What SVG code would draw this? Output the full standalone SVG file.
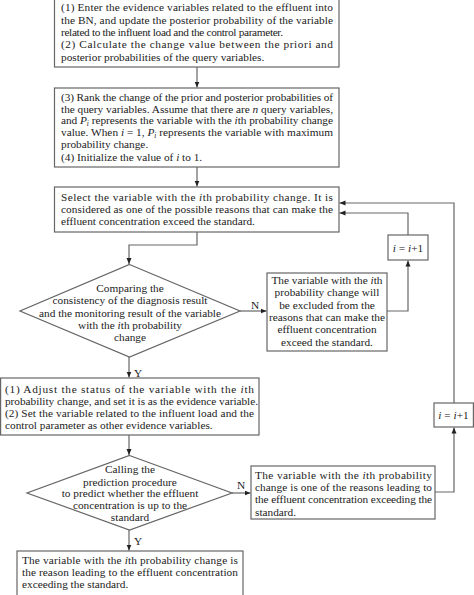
<svg xmlns="http://www.w3.org/2000/svg" width="474" height="595" viewBox="0 0 474 595">
<style>
.b{fill:#fff;stroke:#666;stroke-width:1.2}
.c{fill:none;stroke:#666;stroke-width:1.2}
text{font-family:"Liberation Serif","Times New Roman",serif;font-size:11.3px;fill:#222}
.m{text-anchor:middle}
.i{font-style:italic}
.s{font-style:italic;font-size:7.5px}
</style>
<defs>
<marker id="ah" markerUnits="userSpaceOnUse" markerWidth="7" markerHeight="6" refX="6" refY="3" orient="auto">
<path d="M0,0.5 L6,3 L0,5.5 z" fill="#222"/>
</marker>
</defs>
<rect width="474" height="595" fill="#fff"/>
<g id="connectors">
<path class="c" d="M197,67 V87.5" marker-end="url(#ah)"/>
<path class="c" d="M197,167 V186.5" marker-end="url(#ah)"/>
<path class="c" d="M197,232 V245 H129 V264" marker-end="url(#ah)"/>
<path class="c" d="M240,311 H266.5" marker-end="url(#ah)"/>
<path class="c" d="M387,311 H408 V260.5" marker-end="url(#ah)"/>
<path class="c" d="M408,235 V213 H339.5" marker-end="url(#ah)"/>
<path class="c" d="M454,403 V203 H339.5" marker-end="url(#ah)"/>
<path class="c" d="M129,357 V377.5" marker-end="url(#ah)"/>
<path class="c" d="M129,435 V455" marker-end="url(#ah)"/>
<path class="c" d="M232,493 H250.5" marker-end="url(#ah)"/>
<path class="c" d="M435,492 H454 V427.5" marker-end="url(#ah)"/>
<path class="c" d="M129,530 V550.5" marker-end="url(#ah)"/>
<text x="255" y="309" class="m">N</text>
<text x="138" y="377" class="m">Y</text>
<text x="241" y="489" class="m">N</text>
<text x="138" y="545" class="m">Y</text>
</g>
<g id="step1">
<rect class="b" x="54.5" y="-5" width="284.5" height="72"/>
<text x="61" y="11.3" textLength="272" lengthAdjust="spacing">(1) Enter the evidence variables related to the effluent into</text>
<text x="61" y="23.7" textLength="272" lengthAdjust="spacing">the BN, and update the posterior probability of the variable</text>
<text x="61" y="36.1" textLength="222" lengthAdjust="spacing">related to the influent load and the control parameter.</text>
<text x="61" y="48.4" textLength="272" lengthAdjust="spacing">(2) Calculate the change value between the priori and</text>
<text x="61" y="60.7">posterior probabilities of the query variables.</text>
</g>
<g id="step2">
<rect class="b" x="54.5" y="88" width="284.5" height="79"/>
<text x="61" y="100.7" textLength="272" lengthAdjust="spacing">(3) Rank the change of the prior and posterior probabilities of</text>
<text x="61" y="112.5" textLength="272" lengthAdjust="spacing">the query variables. Assume that there are <tspan class="i">n</tspan> query variables,</text>
<text x="61" y="124.3" textLength="272" lengthAdjust="spacing">and <tspan class="i">P</tspan><tspan class="s" dy="1.5">i</tspan><tspan dy="-1.5"> represents the variable with the </tspan><tspan class="i">i</tspan>th probability change</text>
<text x="61" y="136.3" textLength="272" lengthAdjust="spacing">value. When <tspan class="i">i</tspan> = 1, <tspan class="i">P</tspan><tspan class="s" dy="1.5">i</tspan><tspan dy="-1.5"> represents the variable with maximum</tspan></text>
<text x="61" y="148.4">probability change.</text>
<text x="61" y="160.6">(4) Initialize the value of <tspan class="i">i</tspan> to 1.</text>
</g>
<g id="select">
<rect class="b" x="54.5" y="187" width="284.5" height="45"/>
<text x="61" y="201" textLength="272" lengthAdjust="spacing">Select the variable with the <tspan class="i">i</tspan>th probability change. It is</text>
<text x="61" y="213" textLength="272" lengthAdjust="spacing">considered as one of the possible reasons that can make the</text>
<text x="61" y="225">effluent concentration exceed the standard.</text>
</g>
<g id="compare">
<path class="b" d="M129.5,264.5 L240,311 L129.5,357 L20,311 Z"/>
<text x="130" y="292" class="m">Comparing the</text>
<text x="130" y="304" class="m">consistency of the diagnosis result</text>
<text x="130" y="316.5" class="m">and the monitoring result of the variable</text>
<text x="130" y="329" class="m">with the <tspan class="i">i</tspan>th probability</text>
<text x="130" y="341" class="m">change</text>
</g>
<g id="excluded">
<rect class="b" x="267" y="273" width="120" height="78"/>
<text x="327" y="284" class="m">The variable with the <tspan class="i">i</tspan>th</text>
<text x="327" y="296.3" class="m">probability change will</text>
<text x="327" y="308.6" class="m">be excluded from the</text>
<text x="327" y="320.9" class="m">reasons that can make the</text>
<text x="327" y="333.2" class="m">effluent concentration</text>
<text x="327" y="345.5" class="m">exceed the standard.</text>
</g>
<g id="inc1">
<rect class="b" x="388" y="235" width="40" height="25"/>
<text x="408" y="251.5" class="m"><tspan class="i">i</tspan> = <tspan class="i">i</tspan>+1</text>
</g>
<g id="adjust">
<rect class="b" x="0.6" y="378" width="258.4" height="57"/>
<text x="5" y="393" textLength="249" lengthAdjust="spacing">(1) Adjust the status of the variable with the <tspan class="i">i</tspan>th</text>
<text x="5" y="405" textLength="253" lengthAdjust="spacing">probability change, and set it is as the evidence variable.</text>
<text x="5" y="417" textLength="249" lengthAdjust="spacing">(2) Set the variable related to the influent load and the</text>
<text x="5" y="429">control parameter as other evidence variables.</text>
</g>
<g id="predict">
<path class="b" d="M129.5,455.5 L232,493 L129.5,530 L27,493 Z"/>
<text x="130" y="473" class="m">Calling the</text>
<text x="130" y="485.5" class="m">prediction procedure</text>
<text x="130" y="497" class="m">to predict whether the effluent</text>
<text x="130" y="509" class="m">concentration is up to the</text>
<text x="130" y="521" class="m">standard</text>
</g>
<g id="oneof">
<rect class="b" x="251" y="466" width="184" height="53"/>
<text x="255" y="479" textLength="177" lengthAdjust="spacing">The variable with the <tspan class="i">i</tspan>th probability</text>
<text x="255" y="491" textLength="177" lengthAdjust="spacing">change is one of the reasons leading to</text>
<text x="255" y="503" textLength="177" lengthAdjust="spacing">the effluent concentration exceeding the</text>
<text x="255" y="515.5">standard.</text>
</g>
<g id="inc2">
<rect class="b" x="434" y="403" width="39.4" height="24"/>
<text x="453.5" y="419" class="m"><tspan class="i">i</tspan> = <tspan class="i">i</tspan>+1</text>
</g>
<g id="reason">
<rect class="b" x="17" y="551" width="226" height="55"/>
<text x="22" y="564" textLength="216" lengthAdjust="spacing">The variable with the <tspan class="i">i</tspan>th probability change is</text>
<text x="22" y="576" textLength="216" lengthAdjust="spacing">the reason leading to the effluent concentration</text>
<text x="22" y="588">exceeding the standard.</text>
</g>
</svg>
